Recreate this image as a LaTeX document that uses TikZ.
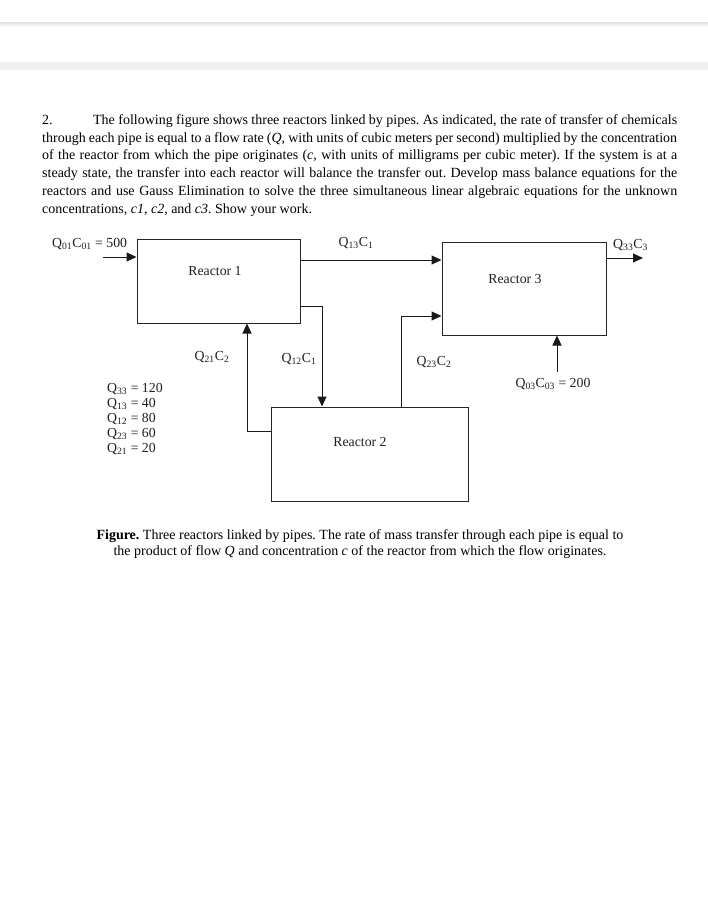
\documentclass[tikz,border=0pt]{standalone}
\usepackage{fontspec}
\setmainfont{Liberation Serif}
\usetikzlibrary{arrows.meta}
\newcommand\sbs[1]{\textsubscript{#1}}
\frenchspacing
\begin{document}
\begin{tikzpicture}[x=1pt,y=-1pt,
  pipe/.style={draw=black!90,line width=1pt},
  arr/.style={pipe,-{Triangle[length=10pt,width=9pt]}},
  reactor/.style={draw=black!85,line width=1pt,rectangle,inner sep=0pt},
  lbl/.style={font=\fontsize{13.8}{16}\selectfont,text=black!88,inner sep=0pt},
  para/.style={font=\fontsize{14}{17}\selectfont,text=black,inner sep=0pt,anchor=base west}]
\useasboundingbox[fill=white] (0,0) rectangle (708,922);
% page chrome
\shade[top color=black!12,bottom color=white] (0,22) rectangle (708,27);
\fill[black!6] (0,62) rectangle (708,70);
% paragraph
\node[para] (p1) at (42,124.5) {\makebox[635pt][s]{\makebox[51pt][l]{2.}The following figure shows three reactors linked by pipes. As indicated, the rate of transfer of chemicals}};
\node[para] (p2) at (42,142.2) {\makebox[635pt][s]{through each pipe is equal to a flow rate (\textit{Q}, with units of cubic meters per second) multiplied by the concentration}};
\node[para] (p3) at (42,159.9) {\makebox[635pt][s]{of the reactor from which the pipe originates (\textit{c}, with units of milligrams per cubic meter). If the system is at a}};
\node[para] (p4) at (42,177.6) {\makebox[635pt][s]{steady state, the transfer into each reactor will balance the transfer out. Develop mass balance equations for the}};
\node[para] (p5) at (42,195.3) {\makebox[635pt][s]{reactors and use Gauss Elimination to solve the three simultaneous linear algebraic equations for the unknown}};
\node[para] (p6) at (42,213) {concentrations, \textit{c1}, \textit{c2}, and \textit{c3}. Show your work.};
% reactors
\node[reactor,minimum width=163pt,minimum height=84pt] (r1) at (218.5,281) {};
\node[reactor,minimum width=164pt,minimum height=93pt] (r3) at (524,288.5) {};
\node[reactor,minimum width=197pt,minimum height=94pt] (r2) at (369.5,454) {};
\node[lbl] (l1) at (215,271) {Reactor 1};
\node[lbl] (l3) at (515,279) {Reactor 3};
\node[lbl] (l2) at (360,442) {Reactor 2};
% coordinates
\coordinate (in1) at (103,257);
\coordinate (y13) at (0,260);
\coordinate (out3) at (643,258);
\coordinate (y12) at (0,306);
\coordinate (x12) at (322,0);
\coordinate (y21) at (0,431);
\coordinate (x21) at (247,0);
\coordinate (y23) at (0,316);
\coordinate (x23) at (401,0);
\coordinate (in3) at (557,372);
% connectors
\draw[arr] (in1) -- (in1 -| r1.west);
\draw[arr] (y13 -| r1.east) -- (y13 -| r3.west);
\draw[arr] (out3 -| r3.east) -- (out3);
\draw[arr] (y12 -| r1.east) -- (y12 -| x12) -- (x12 |- r2.north);
\draw[arr] (y21 -| r2.west) -- (y21 -| x21) -- (x21 |- r1.south);
\draw[arr] (x23 |- r2.north) -- (x23 |- y23) -- (y23 -| r3.west);
\draw[arr] (in3) -- (in3 |- r3.south);
% labels
\node[lbl,anchor=west] (q01) at (52,244) {Q\sbs{01}C\sbs{01} = 500};
\node[lbl] (q13) at (356,243) {Q\sbs{13}C\sbs{1}};
\node[lbl,anchor=west] (q33) at (613,245) {Q\sbs{33}C\sbs{3}};
\node[lbl] (q21) at (212,357) {Q\sbs{21}C\sbs{2}};
\node[lbl] (q12) at (299,359) {Q\sbs{12}C\sbs{1}};
\node[lbl] (q23) at (434,362) {Q\sbs{23}C\sbs{2}};
\node[lbl] (q03) at (553,384) {Q\sbs{03}C\sbs{03} = 200};
\node[lbl,anchor=west] (v1) at (107,389) {Q\sbs{33} = 120};
\node[lbl,anchor=west] (v2) at (107,404) {Q\sbs{13} = 40};
\node[lbl,anchor=west] (v3) at (107,419) {Q\sbs{12} = 80};
\node[lbl,anchor=west] (v4) at (107,434) {Q\sbs{23} = 60};
\node[lbl,anchor=west] (v5) at (107,449) {Q\sbs{21} = 20};
% caption
\node[para,anchor=base,font=\fontsize{14}{17}\selectfont] (c1) at (360,539) {\textbf{Figure.} Three reactors linked by pipes. The rate of mass transfer through each pipe is equal to};
\node[para,anchor=base,font=\fontsize{14}{17}\selectfont] (c2) at (360,555) {the product of flow \textit{Q} and concentration \textit{c} of the reactor from which the flow originates.};
\end{tikzpicture}
\end{document}
